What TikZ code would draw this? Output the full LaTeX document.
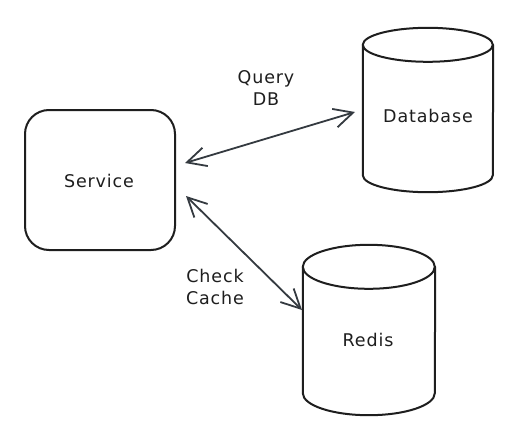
\documentclass[tikz,border=0pt]{standalone}
\usepackage{fontspec}
\setmainfont{DejaVu Sans}[LetterSpace=5]
\usetikzlibrary{arrows.meta,calc}
\definecolor{ink}{HTML}{1E1E1E}
\definecolor{arrowink}{HTML}{343A40}
\tikzset{
  shapeline/.style={draw=ink, line width=2pt, line join=round, line cap=round},
  conn/.style={draw=arrowink, line width=1.8pt, line cap=round,
    {Straight Barb[length=19pt,width=19pt,line width=1.8pt]}-{Straight Barb[length=19pt,width=19pt,line width=1.8pt]}},
  lbl/.style={text=ink, font=\fontsize{17.5}{22}\selectfont, align=center, inner sep=0pt},
  area/.style={draw=none, inner sep=0pt}
}
\begin{document}
\begin{tikzpicture}[x=1pt,y=-1pt]
\useasboundingbox[fill=white] (0,0) rectangle (519,439);
% Service
\node[area, shapeline, rounded corners=24pt, minimum width=150pt, minimum height=140pt] (svc) at (100,180) {};
\node[lbl] (svct) at (99,181) {Service};
% Database cylinder
\node[area, minimum width=130pt, minimum height=164pt] (db) at (428,110) {};
\draw[shapeline] ($(db.north west)+(0,17)$) arc[start angle=180, end angle=-180, x radius=65pt, y radius=17pt];
\draw[shapeline] ($(db.north west)+(0,17)$) -- ($(db.south west)+(0,-17)$) arc[start angle=180, end angle=360, x radius=65pt, y radius=17pt] -- ($(db.north east)+(0,17)$);
\node[lbl] (dbt) at (428,116) {Database};
% Redis cylinder
\node[area, minimum width=132pt, minimum height=170pt] (rd) at (369,330) {};
\draw[shapeline] ($(rd.north west)+(0,22)$) arc[start angle=180, end angle=-180, x radius=66pt, y radius=22pt];
\draw[shapeline] ($(rd.north west)+(0,22)$) -- ($(rd.south west)+(0,-22)$) arc[start angle=180, end angle=360, x radius=66pt, y radius=22pt] -- ($(rd.north east)+(0,22)$);
\node[lbl] (rdt) at (368,340) {Redis};
% connectors
\coordinate (a1) at (185,163);
\coordinate (b1) at (355,112);
\coordinate (a2) at (186,196);
\coordinate (b2) at (302,310);
\draw[conn] (a1) -- (b1);
\draw[conn] (a2) -- (b2);
\node[lbl] (q) at (266,88) {Query\\DB};
\node[lbl] (c) at (215,287) {Check\\Cache};
\end{tikzpicture}
\end{document}
